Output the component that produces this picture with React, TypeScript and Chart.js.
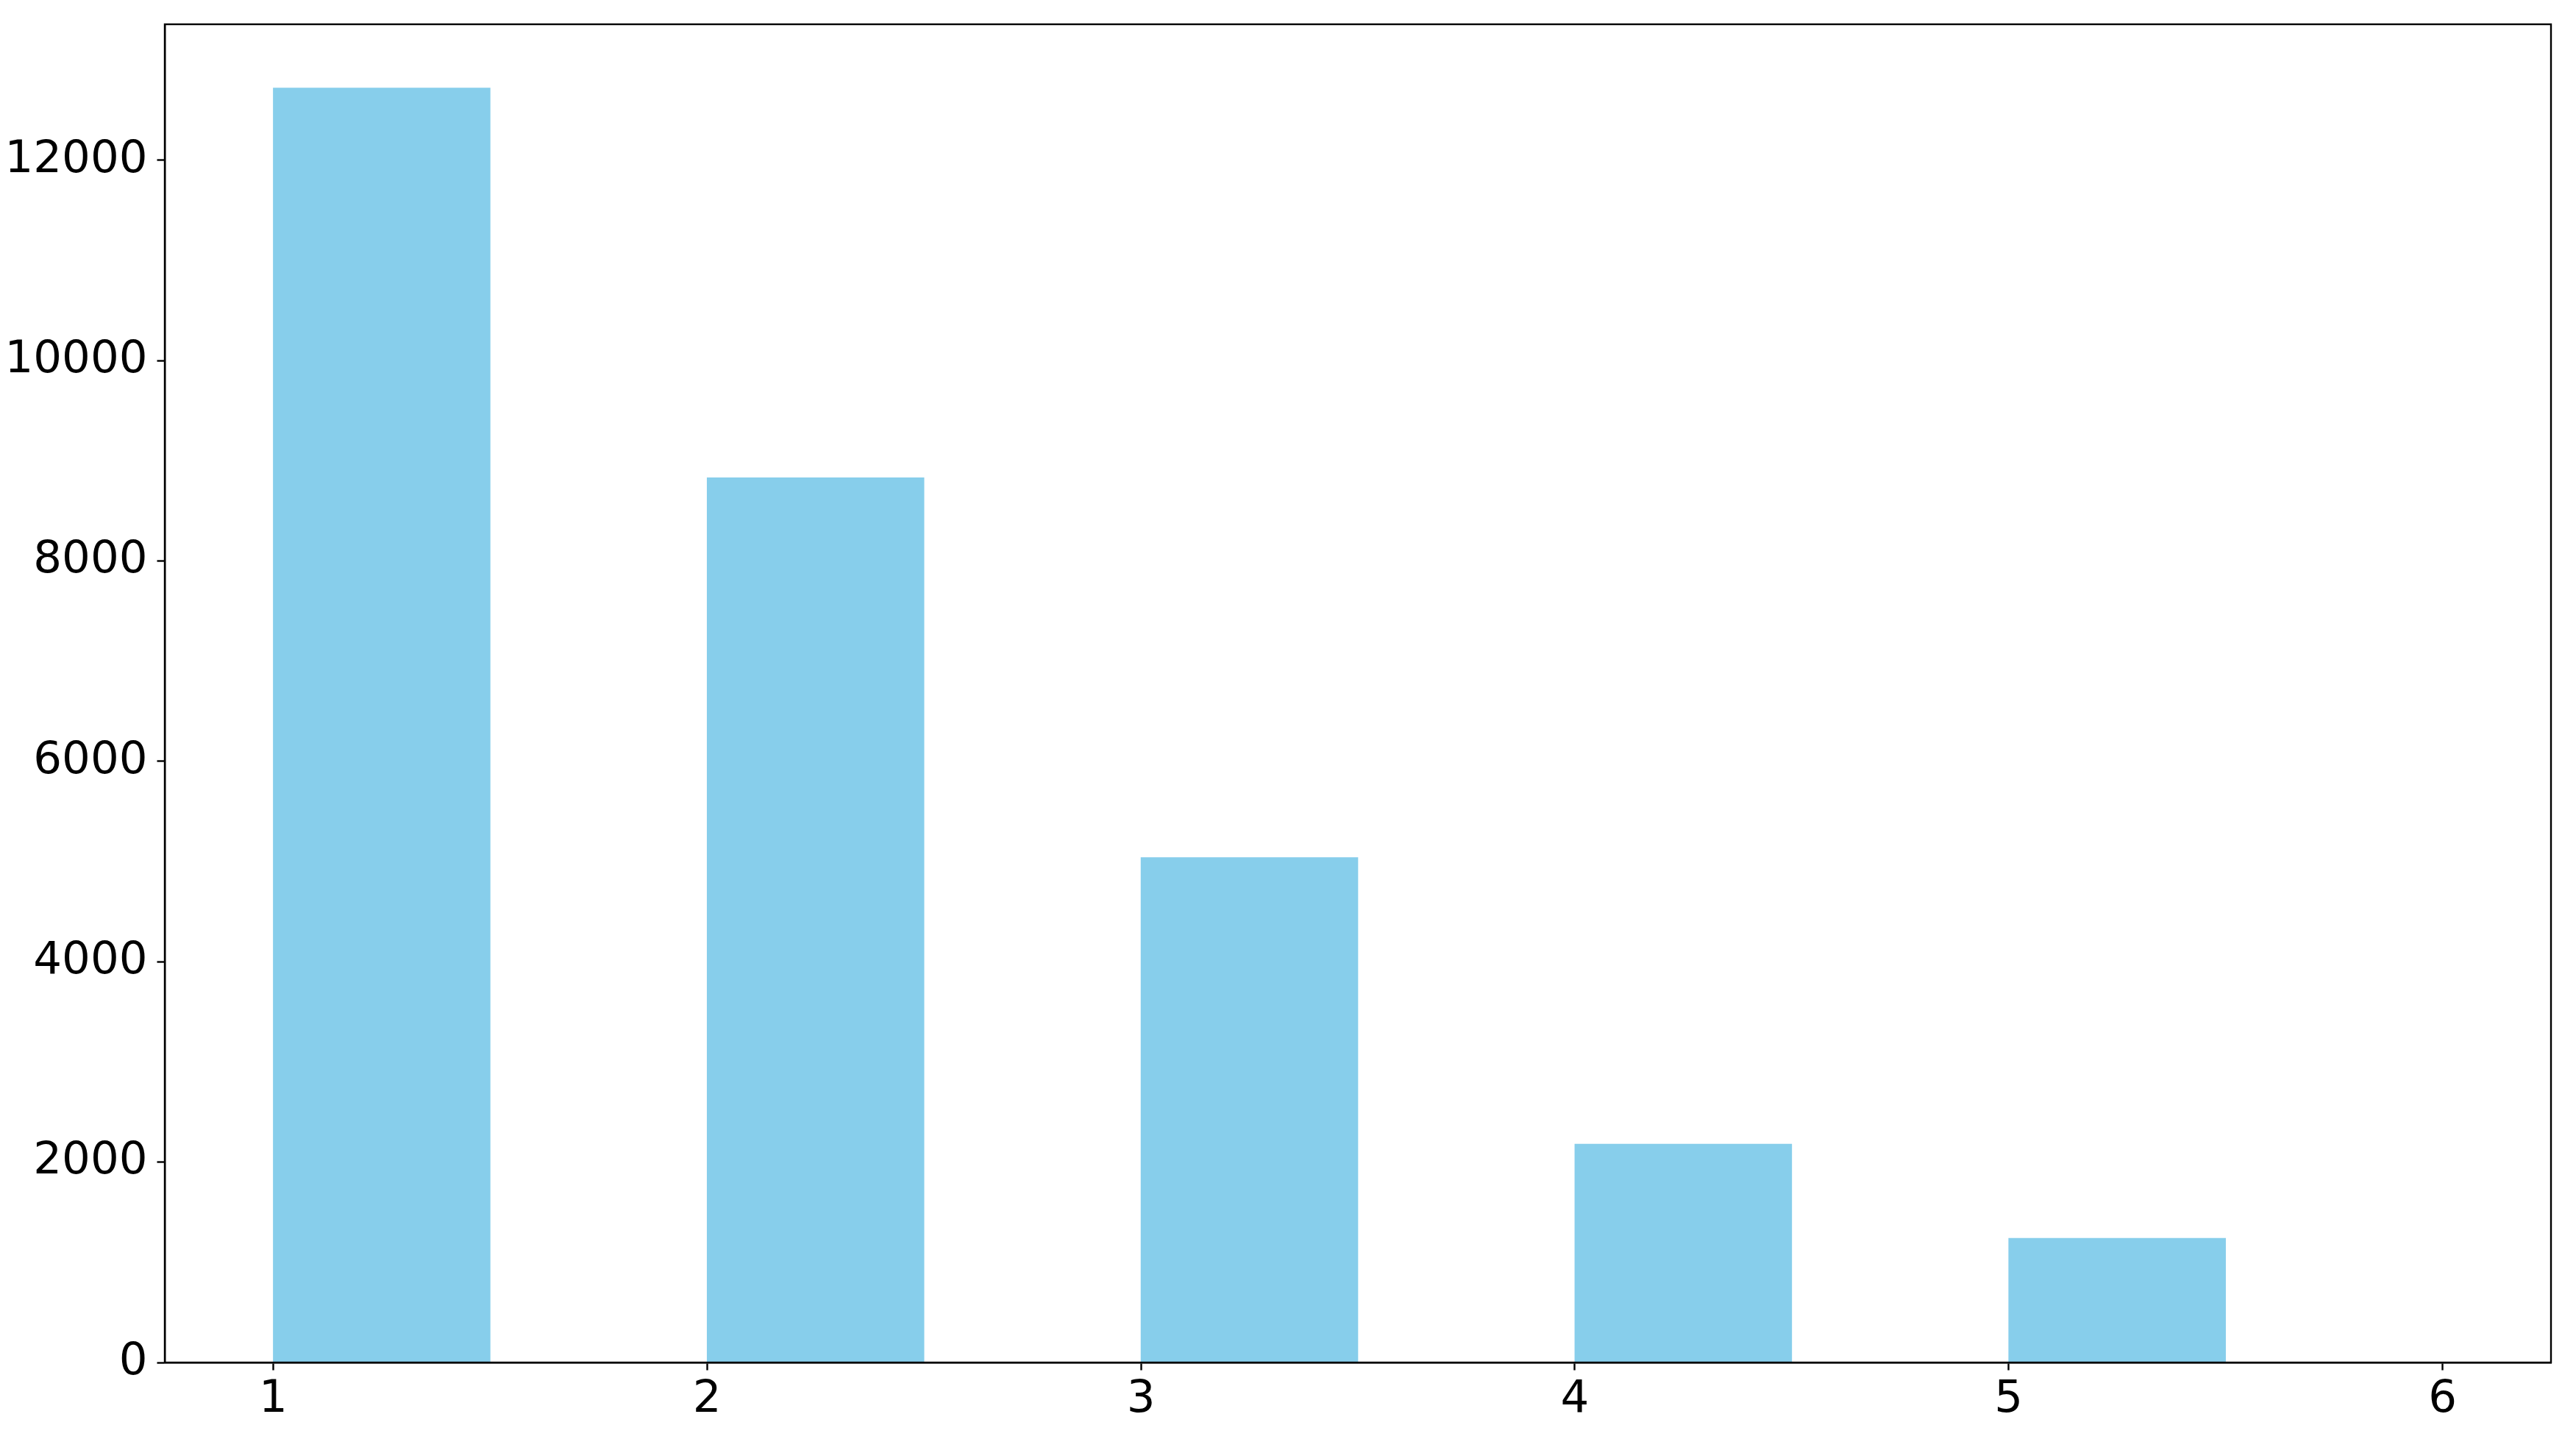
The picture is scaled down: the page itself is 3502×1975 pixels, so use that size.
import React, { useEffect, useRef } from "react";
import { Chart, registerables } from "chart.js";

Chart.register(...registerables);

// Histogram bins (left edges), bin width and counts
const binStarts = [1, 1.5, 2, 2.5, 3, 3.5, 4, 4.5, 5, 5.5];
const binWidth = 0.5;
const counts = [12720, 0, 8830, 0, 5040, 0, 2180, 0, 1240, 0];
const xTicks = [1, 2, 3, 4, 5, 6];
const yTicks = [0, 2000, 4000, 6000, 8000, 10000, 12000];

const W = 3502;
const H = 1975;

const framePlugin = {
  id: "frame",
  afterDraw(chart: any) {
    const { ctx, chartArea } = chart;
    ctx.save();
    ctx.strokeStyle = "#000000";
    ctx.lineWidth = 2.4;
    ctx.strokeRect(
      chartArea.left,
      chartArea.top,
      chartArea.right - chartArea.left,
      chartArea.bottom - chartArea.top
    );
    ctx.restore();
  },
};

export default function App() {
  const ref = useRef<HTMLCanvasElement | null>(null);

  useEffect(() => {
    document.body.style.margin = "0";
    const canvas = ref.current;
    if (!canvas) return;

    const dataMin = binStarts[0];
    const dataMax = binStarts[binStarts.length - 1] + binWidth;
    const xMargin = (dataMax - dataMin) * 0.05;
    const yMax = Math.max(...counts) * 1.05;

    const font = { family: "'DejaVu Sans'", size: 61 };

    const chart = new Chart(canvas, {
      type: "bar",
      data: {
        datasets: [
          {
            data: binStarts.map((s, i) => ({ x: s + binWidth / 2, y: counts[i] })),
            backgroundColor: "#87CEEB",
            borderWidth: 0,
            categoryPercentage: 1,
            barPercentage: 1,
          },
        ],
      },
      options: {
        animation: false,
        responsive: false,
        devicePixelRatio: 1,
        layout: { padding: { top: 33, right: 34, left: 0, bottom: 0 } },
        plugins: {
          legend: { display: false },
          tooltip: { enabled: false },
        },
        scales: {
          x: {
            type: "linear",
            offset: false,
            min: dataMin - xMargin,
            max: dataMax + xMargin,
            afterBuildTicks: (s: any) => {
              s.ticks = xTicks.map((v) => ({ value: v }));
            },
            afterFit: (s: any) => {
              s.height = H - 1852;
              s.paddingLeft = 0;
              s.paddingRight = 0;
            },
            grid: {
              offset: false,
              drawOnChartArea: false,
              drawTicks: true,
              tickLength: 10.5,
              tickWidth: 2.4,
              tickColor: "#000000",
            },
            border: { display: true, color: "#000000", width: 2.4 },
            ticks: {
              color: "#000000",
              font,
              padding: 4,
              maxRotation: 0,
              autoSkip: false,
              callback: (v: any) => String(v),
            },
          },
          y: {
            type: "linear",
            min: 0,
            max: yMax,
            afterBuildTicks: (s: any) => {
              s.ticks = yTicks.map((v) => ({ value: v }));
            },
            afterFit: (s: any) => {
              s.width = 224;
              s.paddingTop = 0;
              s.paddingBottom = 0;
            },
            grid: {
              drawOnChartArea: false,
              drawTicks: true,
              tickLength: 10.5,
              tickWidth: 2.4,
              tickColor: "#000000",
            },
            border: { display: true, color: "#000000", width: 2.4 },
            ticks: {
              color: "#000000",
              font,
              padding: 13,
              autoSkip: false,
              callback: (v: any) => String(v),
            },
          },
        },
      },
      plugins: [framePlugin],
    });

    return () => chart.destroy();
  }, []);

  return (
    <div style={{ position: "absolute", left: 0, top: 0, width: W, height: H, background: "#ffffff" }}>
      <canvas ref={ref} width={W} height={H} style={{ display: "block", width: W, height: H }} />
    </div>
  );
}
